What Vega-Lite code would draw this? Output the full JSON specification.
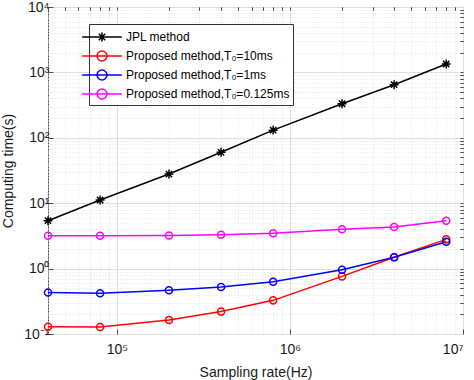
{
  "$schema": "https://vega.github.io/schema/vega-lite/v6.json",
  "width": 415,
  "height": 327,
  "autosize": {"type": "none"},
  "padding": {"left": 48, "top": 7, "right": 11, "bottom": 46},
  "background": "white",
  "config": {
    "view": {"stroke": "#4d4d4d", "strokeWidth": 1},
    "font": "Liberation Sans",
    "axis": {"labelFont": "Liberation Sans", "titleFont": "Liberation Sans", "labelColor": "#1a1a1a", "titleColor": "#1a1a1a", "domain": false}
  },
  "data": {
    "values": [
      {"x": 40000, "y": 5.4, "s": "JPL method"},
      {"x": 80000, "y": 11.2, "s": "JPL method"},
      {"x": 200000, "y": 27.9, "s": "JPL method"},
      {"x": 400000, "y": 60, "s": "JPL method"},
      {"x": 800000, "y": 131, "s": "JPL method"},
      {"x": 2000000, "y": 332, "s": "JPL method"},
      {"x": 4000000, "y": 649, "s": "JPL method"},
      {"x": 8000000, "y": 1343, "s": "JPL method"},
      {"x": 40000, "y": 0.129, "s": "Proposed method,T₀=10ms"},
      {"x": 80000, "y": 0.128, "s": "Proposed method,T₀=10ms"},
      {"x": 200000, "y": 0.164, "s": "Proposed method,T₀=10ms"},
      {"x": 400000, "y": 0.22, "s": "Proposed method,T₀=10ms"},
      {"x": 800000, "y": 0.327, "s": "Proposed method,T₀=10ms"},
      {"x": 2000000, "y": 0.76, "s": "Proposed method,T₀=10ms"},
      {"x": 4000000, "y": 1.49, "s": "Proposed method,T₀=10ms"},
      {"x": 8000000, "y": 2.8, "s": "Proposed method,T₀=10ms"},
      {"x": 40000, "y": 0.43, "s": "Proposed method,T₀=1ms"},
      {"x": 80000, "y": 0.42, "s": "Proposed method,T₀=1ms"},
      {"x": 200000, "y": 0.466, "s": "Proposed method,T₀=1ms"},
      {"x": 400000, "y": 0.524, "s": "Proposed method,T₀=1ms"},
      {"x": 800000, "y": 0.63, "s": "Proposed method,T₀=1ms"},
      {"x": 2000000, "y": 0.96, "s": "Proposed method,T₀=1ms"},
      {"x": 4000000, "y": 1.49, "s": "Proposed method,T₀=1ms"},
      {"x": 8000000, "y": 2.58, "s": "Proposed method,T₀=1ms"},
      {"x": 40000, "y": 3.18, "s": "Proposed method,T₀=0.125ms"},
      {"x": 80000, "y": 3.18, "s": "Proposed method,T₀=0.125ms"},
      {"x": 200000, "y": 3.2, "s": "Proposed method,T₀=0.125ms"},
      {"x": 400000, "y": 3.3, "s": "Proposed method,T₀=0.125ms"},
      {"x": 800000, "y": 3.47, "s": "Proposed method,T₀=0.125ms"},
      {"x": 2000000, "y": 4.0, "s": "Proposed method,T₀=0.125ms"},
      {"x": 4000000, "y": 4.33, "s": "Proposed method,T₀=0.125ms"},
      {"x": 8000000, "y": 5.4, "s": "Proposed method,T₀=0.125ms"}
    ]
  },
  "resolve": {"axis": {"x": "independent", "y": "independent"}},
  "layer": [
    {
      "mark": {"type": "line", "strokeWidth": 1.5},
      "encoding": {
        "x": {"field": "x", "type": "quantitative",
          "scale": {"type": "log", "domain": [40000, 10000000], "nice": false},
          "axis": {"values": [100000, 1000000, 10000000], "title": "Sampling rate(Hz)", "titleFontSize": 14, "titleFontWeight": "normal", "titlePadding": 9,
            "labelFontSize": 14, "labelPadding": 13, "labelExpr": "'10' + ['⁰','¹','²','³','⁴','⁵','⁶','⁷'][round(log(datum.value)/LN10)]",
            "grid": true, "gridColor": "#dedede", "gridWidth": 1, "ticks": true, "tickSize": -5, "tickColor": "#4d4d4d"}},
        "y": {"field": "y", "type": "quantitative",
          "scale": {"type": "log", "domain": [0.1, 10000], "nice": false},
          "axis": {"values": [0.1, 1, 10, 100, 1000, 10000], "title": "Computing time(s)", "titleFontSize": 14, "titleFontWeight": "normal", "titlePadding": 8,
            "labelFontSize": 14, "labelPadding": 4, "labelExpr": "datum.value < 1 ? '10⁻¹' : '10' + ['⁰','¹','²','³','⁴'][round(log(datum.value)/LN10)]",
            "grid": true, "gridColor": "#dedede", "gridWidth": 1, "ticks": true, "tickSize": -5, "tickColor": "#4d4d4d"}},
        "color": {"field": "s", "type": "nominal",
          "scale": {"domain": ["JPL method", "Proposed method,T₀=10ms", "Proposed method,T₀=1ms", "Proposed method,T₀=0.125ms"], "range": ["#000000", "#ff0000", "#0000ff", "#ff00ff"]},
          "legend": {"title": null, "orient": "none", "legendX": 41, "legendY": 17, "strokeColor": "#333333", "fillColor": "white", "padding": 3,
            "labelFont": "Liberation Sans", "labelFontSize": 12, "labelColor": "#000000", "labelLimit": 400, "symbolSize": 324, "symbolStrokeWidth": 1.5, "rowPadding": 1, "labelOffset": 14,
            "symbolType": "M-2.2,0L2.2,0M-0.55,0A0.55,0.55,0,1,0,0.55,0A0.55,0.55,0,1,0,-0.55,0",
            "symbolFillColor": "transparent",
            "encode": {"symbols": {"update": {
              "shape": {"signal": "datum.value === 'JPL method' ? 'M-2.2,0L2.2,0M0,-0.5L0,0.5M-0.36,-0.36L0.36,0.36M-0.36,0.36L0.36,-0.36' : 'M-2.2,0L2.2,0M-0.55,0A0.55,0.55,0,1,0,0.55,0A0.55,0.55,0,1,0,-0.55,0'"},
              "fill": {"value": "transparent"}}}}}}
      }
    },
    {
      "transform": [{"filter": "datum.s !== 'JPL method'"}],
      "mark": {"type": "point", "shape": "circle", "filled": false, "strokeWidth": 1.5, "size": 50, "opacity": 1},
      "encoding": {
        "x": {"field": "x", "type": "quantitative",
          "axis": {"values": [40000, 50000, 60000, 70000, 80000, 90000, 200000, 300000, 400000, 500000, 600000, 700000, 800000, 900000, 2000000, 3000000, 4000000, 5000000, 6000000, 7000000, 8000000, 9000000],
            "labels": false, "title": null, "grid": true, "gridColor": "#e3e3e3", "gridDash": [1, 2], "ticks": true, "tickSize": -3, "tickColor": "#4d4d4d"}},
        "y": {"field": "y", "type": "quantitative",
          "axis": {"values": [0.2, 0.3, 0.4, 0.5, 0.6, 0.7, 0.8, 0.9, 2, 3, 4, 5, 6, 7, 8, 9, 20, 30, 40, 50, 60, 70, 80, 90, 200, 300, 400, 500, 600, 700, 800, 900, 2000, 3000, 4000, 5000, 6000, 7000, 8000, 9000],
            "labels": false, "title": null, "grid": true, "gridColor": "#e3e3e3", "gridDash": [1, 2], "ticks": true, "tickSize": -3, "tickColor": "#4d4d4d"}},
        "color": {"field": "s", "type": "nominal", "legend": null}
      }
    },
    {
      "transform": [{"filter": "datum.s === 'JPL method'"}],
      "mark": {"type": "point", "shape": "M0,-1L0,1M-1,0L1,0M-0.7,-0.7L0.7,0.7M-0.7,0.7L0.7,-0.7", "filled": false, "strokeWidth": 1.5, "size": 80, "opacity": 1},
      "encoding": {
        "x": {"field": "x", "type": "quantitative",
          "axis": {"orient": "top", "values": [40000, 50000, 60000, 70000, 80000, 90000, 100000, 200000, 300000, 400000, 500000, 600000, 700000, 800000, 900000, 1000000, 2000000, 3000000, 4000000, 5000000, 6000000, 7000000, 8000000, 9000000],
            "labels": false, "title": null, "grid": false, "ticks": true, "tickSize": -3, "tickColor": "#4d4d4d"}},
        "y": {"field": "y", "type": "quantitative",
          "axis": {"orient": "right", "values": [0.2, 0.3, 0.4, 0.5, 0.6, 0.7, 0.8, 0.9, 1, 2, 3, 4, 5, 6, 7, 8, 9, 10, 20, 30, 40, 50, 60, 70, 80, 90, 100, 200, 300, 400, 500, 600, 700, 800, 900, 1000, 2000, 3000, 4000, 5000, 6000, 7000, 8000, 9000],
            "labels": false, "title": null, "grid": false, "ticks": true, "tickSize": -3, "tickColor": "#4d4d4d"}},
        "color": {"value": "#000000"}
      }
    }
  ]
}
